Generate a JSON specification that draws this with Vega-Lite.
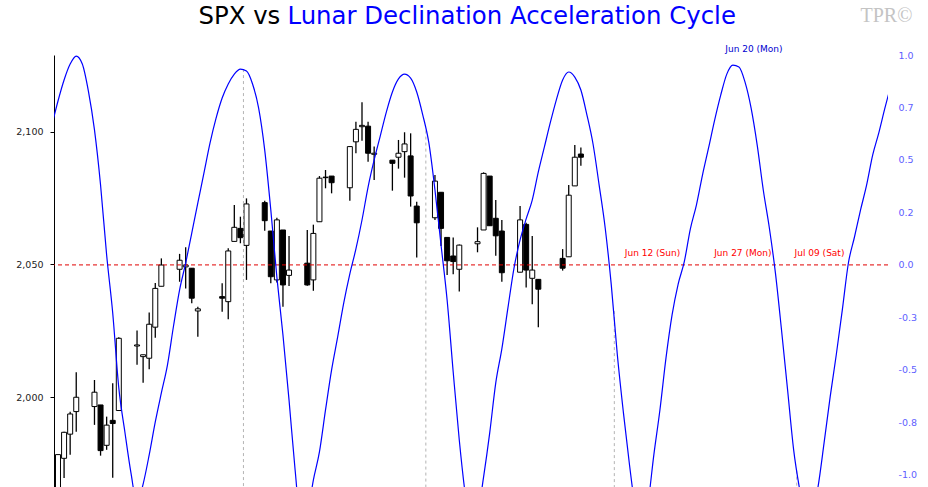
{
  "$schema": "https://vega.github.io/schema/vega-lite/v6.json",
  "width": 834,
  "height": 432,
  "autosize": {"type": "none"},
  "padding": {"left": 54, "top": 55, "right": 40, "bottom": 0},
  "background": "white",
  "config": {"view": {"stroke": null}, "axis": {"grid": false}},
  "datasets": {
    "spx": [
      {"date":"2016-03-01","o":1937.1,"h":1978.4,"l":1937.1,"c":1978.4},
      {"date":"2016-03-02","o":1977.0,"h":1987.0,"l":1969.6,"c":1986.8},
      {"date":"2016-03-03","o":1986.1,"h":1994.5,"l":1978.3,"c":1993.7},
      {"date":"2016-03-04","o":1994.6,"h":2009.4,"l":1987.0,"c":2000.0},
      {"date":"2016-03-07","o":1996.5,"h":2006.5,"l":1989.6,"c":2001.9},
      {"date":"2016-03-08","o":1997.1,"h":1997.1,"l":1978.0,"c":1979.9},
      {"date":"2016-03-09","o":1981.9,"h":1992.7,"l":1980.2,"c":1989.5},
      {"date":"2016-03-10","o":1991.3,"h":2005.3,"l":1969.7,"c":1990.1},
      {"date":"2016-03-11","o":1995.0,"h":2022.6,"l":1995.0,"c":2022.2},
      {"date":"2016-03-14","o":2019.3,"h":2025.1,"l":2012.2,"c":2019.7},
      {"date":"2016-03-15","o":2015.3,"h":2016.0,"l":2005.5,"c":2016.0},
      {"date":"2016-03-16","o":2014.7,"h":2031.9,"l":2010.5,"c":2027.5},
      {"date":"2016-03-17","o":2026.4,"h":2043.0,"l":2022.4,"c":2041.0},
      {"date":"2016-03-18","o":2041.8,"h":2052.3,"l":2041.8,"c":2049.8},
      {"date":"2016-03-21","o":2048.2,"h":2054.0,"l":2043.5,"c":2051.6},
      {"date":"2016-03-22","o":2049.1,"h":2056.5,"l":2041.0,"c":2049.8},
      {"date":"2016-03-23","o":2048.6,"h":2048.6,"l":2035.4,"c":2037.3},
      {"date":"2016-03-24","o":2032.5,"h":2034.1,"l":2022.8,"c":2033.3},
      {"date":"2016-03-28","o":2037.9,"h":2042.9,"l":2032.2,"c":2037.3},
      {"date":"2016-03-29","o":2036.0,"h":2056.1,"l":2029.4,"c":2055.1},
      {"date":"2016-03-30","o":2058.7,"h":2072.4,"l":2058.7,"c":2064.0},
      {"date":"2016-03-31","o":2063.6,"h":2068.0,"l":2058.0,"c":2060.1},
      {"date":"2016-04-01","o":2057.2,"h":2074.9,"l":2044.2,"c":2072.8},
      {"date":"2016-04-04","o":2073.3,"h":2074.0,"l":2062.7,"c":2066.5},
      {"date":"2016-04-05","o":2062.6,"h":2062.6,"l":2042.9,"c":2045.4},
      {"date":"2016-04-06","o":2044.2,"h":2067.6,"l":2043.2,"c":2066.8},
      {"date":"2016-04-07","o":2063.0,"h":2063.0,"l":2034.1,"c":2042.3},
      {"date":"2016-04-08","o":2045.9,"h":2060.7,"l":2041.9,"c":2047.9},
      {"date":"2016-04-11","o":2050.5,"h":2063.0,"l":2042.0,"c":2042.3},
      {"date":"2016-04-12","o":2044.2,"h":2065.0,"l":2040.1,"c":2061.7},
      {"date":"2016-04-13","o":2066.1,"h":2083.3,"l":2066.1,"c":2082.5},
      {"date":"2016-04-14","o":2082.9,"h":2085.6,"l":2078.7,"c":2082.7},
      {"date":"2016-04-15","o":2083.3,"h":2083.3,"l":2076.8,"c":2080.8},
      {"date":"2016-04-18","o":2078.9,"h":2094.6,"l":2074.0,"c":2094.4},
      {"date":"2016-04-19","o":2096.2,"h":2103.8,"l":2091.9,"c":2100.9},
      {"date":"2016-04-20","o":2101.9,"h":2111.1,"l":2096.6,"c":2102.4},
      {"date":"2016-04-21","o":2102.1,"h":2103.8,"l":2088.7,"c":2091.9},
      {"date":"2016-04-22","o":2091.5,"h":2094.4,"l":2081.8,"c":2091.9},
      {"date":"2016-04-25","o":2089.3,"h":2089.3,"l":2077.8,"c":2088.1},
      {"date":"2016-04-26","o":2090.4,"h":2096.9,"l":2086.1,"c":2091.9},
      {"date":"2016-04-27","o":2092.5,"h":2099.8,"l":2082.7,"c":2095.4},
      {"date":"2016-04-28","o":2090.9,"h":2099.4,"l":2071.8,"c":2075.8},
      {"date":"2016-04-29","o":2072.0,"h":2073.6,"l":2052.6,"c":2065.7},
      {"date":"2016-05-02","o":2067.6,"h":2083.7,"l":2066.8,"c":2081.4},
      {"date":"2016-05-03","o":2077.2,"h":2077.2,"l":2057.0,"c":2063.6},
      {"date":"2016-05-04","o":2060.2,"h":2060.2,"l":2046.0,"c":2051.4},
      {"date":"2016-05-05","o":2053.2,"h":2060.2,"l":2046.3,"c":2051.1},
      {"date":"2016-05-06","o":2048.2,"h":2057.5,"l":2039.8,"c":2057.3},
      {"date":"2016-05-09","o":2057.8,"h":2064.0,"l":2054.6,"c":2058.6},
      {"date":"2016-05-10","o":2063.0,"h":2084.7,"l":2063.0,"c":2084.3},
      {"date":"2016-05-11","o":2083.3,"h":2083.3,"l":2064.6,"c":2064.6},
      {"date":"2016-05-12","o":2067.4,"h":2074.3,"l":2053.3,"c":2060.8},
      {"date":"2016-05-13","o":2062.6,"h":2066.8,"l":2043.5,"c":2046.9},
      {"date":"2016-05-16","o":2047.1,"h":2072.0,"l":2047.1,"c":2066.8},
      {"date":"2016-05-17","o":2065.1,"h":2065.7,"l":2041.3,"c":2047.9},
      {"date":"2016-05-18","o":2044.8,"h":2060.7,"l":2035.0,"c":2047.9},
      {"date":"2016-05-19","o":2044.4,"h":2044.4,"l":2026.4,"c":2040.7},
      {"date":"2016-05-23","o":2052.3,"h":2055.8,"l":2047.7,"c":2048.6},
      {"date":"2016-05-24","o":2052.9,"h":2079.9,"l":2052.9,"c":2076.1},
      {"date":"2016-05-25","o":2079.6,"h":2095.0,"l":2079.6,"c":2090.4},
      {"date":"2016-05-26","o":2091.6,"h":2094.1,"l":2087.2,"c":2090.4}
    ],
    "cycle": [
      {"date":"2016-02-29","v":0.667},
      {"date":"2016-03-01","v":0.781},{"date":"2016-03-02","v":0.881},{"date":"2016-03-03","v":0.957},{"date":"2016-03-04","v":0.995},{"date":"2016-03-05","v":0.957},{"date":"2016-03-06","v":0.828},{"date":"2016-03-07","v":0.643},{"date":"2016-03-08","v":0.381},{"date":"2016-03-09","v":0.047},{"date":"2016-03-10","v":-0.229},
      {"date":"2016-03-11","v":-0.586},{"date":"2016-03-12","v":-0.796},{"date":"2016-03-13","v":-0.991},{"date":"2016-03-14","v":-1.134},{"date":"2016-03-15","v":-1.044},{"date":"2016-03-16","v":-0.905},{"date":"2016-03-17","v":-0.748},{"date":"2016-03-18","v":-0.610},{"date":"2016-03-19","v":-0.477},{"date":"2016-03-20","v":-0.291},
      {"date":"2016-03-21","v":-0.119},{"date":"2016-03-22","v":0.009},{"date":"2016-03-23","v":0.152},{"date":"2016-03-24","v":0.295},{"date":"2016-03-25","v":0.437},{"date":"2016-03-26","v":0.580},{"date":"2016-03-27","v":0.699},{"date":"2016-03-28","v":0.795},{"date":"2016-03-29","v":0.862},{"date":"2016-03-30","v":0.909},{"date":"2016-03-31","v":0.933},
      {"date":"2016-04-01","v":0.924},{"date":"2016-04-02","v":0.862},{"date":"2016-04-03","v":0.747},{"date":"2016-04-04","v":0.547},{"date":"2016-04-05","v":0.262},{"date":"2016-04-06","v":-0.058},{"date":"2016-04-07","v":-0.334},{"date":"2016-04-08","v":-0.644},{"date":"2016-04-09","v":-0.977},{"date":"2016-04-10","v":-1.239},
      {"date":"2016-04-11","v":-1.191},{"date":"2016-04-12","v":-1.025},{"date":"2016-04-13","v":-0.891},{"date":"2016-04-14","v":-0.691},{"date":"2016-04-15","v":-0.500},{"date":"2016-04-16","v":-0.343},{"date":"2016-04-17","v":-0.181},{"date":"2016-04-18","v":-0.043},{"date":"2016-04-19","v":0.076},{"date":"2016-04-20","v":0.214},
      {"date":"2016-04-21","v":0.371},{"date":"2016-04-22","v":0.500},{"date":"2016-04-23","v":0.614},{"date":"2016-04-24","v":0.728},{"date":"2016-04-25","v":0.824},{"date":"2016-04-26","v":0.886},{"date":"2016-04-27","v":0.909},{"date":"2016-04-28","v":0.890},{"date":"2016-04-29","v":0.824},{"date":"2016-04-30","v":0.714},
      {"date":"2016-05-01","v":0.581},{"date":"2016-05-02","v":0.357},{"date":"2016-05-03","v":0.095},{"date":"2016-05-04","v":-0.167},{"date":"2016-05-05","v":-0.510},{"date":"2016-05-06","v":-0.834},{"date":"2016-05-07","v":-1.096},{"date":"2016-05-08","v":-1.263},{"date":"2016-05-09","v":-1.191},{"date":"2016-05-10","v":-1.010},
      {"date":"2016-05-11","v":-0.801},{"date":"2016-05-12","v":-0.562},{"date":"2016-05-13","v":-0.400},{"date":"2016-05-14","v":-0.205},{"date":"2016-05-15","v":-0.015},{"date":"2016-05-16","v":0.119},{"date":"2016-05-17","v":0.219},{"date":"2016-05-18","v":0.309},{"date":"2016-05-19","v":0.443},{"date":"2016-05-20","v":0.562},
      {"date":"2016-05-21","v":0.681},{"date":"2016-05-22","v":0.790},{"date":"2016-05-23","v":0.881},{"date":"2016-05-24","v":0.919},{"date":"2016-05-25","v":0.895},{"date":"2016-05-26","v":0.833},{"date":"2016-05-27","v":0.714},{"date":"2016-05-28","v":0.576},{"date":"2016-05-29","v":0.381},{"date":"2016-05-30","v":0.176},{"date":"2016-05-31","v":-0.095},
      {"date":"2016-06-01","v":-0.429},{"date":"2016-06-02","v":-0.705},{"date":"2016-06-03","v":-0.953},{"date":"2016-06-04","v":-1.167},{"date":"2016-06-05","v":-1.263},{"date":"2016-06-06","v":-1.144},{"date":"2016-06-07","v":-0.905},{"date":"2016-06-08","v":-0.691},{"date":"2016-06-09","v":-0.443},{"date":"2016-06-10","v":-0.238},
      {"date":"2016-06-11","v":-0.091},{"date":"2016-06-12","v":0.014},{"date":"2016-06-13","v":0.171},{"date":"2016-06-14","v":0.285},{"date":"2016-06-15","v":0.428},{"date":"2016-06-16","v":0.557},{"date":"2016-06-17","v":0.690},{"date":"2016-06-18","v":0.809},{"date":"2016-06-19","v":0.909},{"date":"2016-06-20","v":0.952},
      {"date":"2016-06-21","v":0.943},{"date":"2016-06-22","v":0.871},{"date":"2016-06-23","v":0.747},{"date":"2016-06-24","v":0.571},{"date":"2016-06-25","v":0.357},{"date":"2016-06-26","v":0.176},{"date":"2016-06-27","v":-0.039},{"date":"2016-06-28","v":-0.310},{"date":"2016-06-29","v":-0.596},{"date":"2016-06-30","v":-0.882},
      {"date":"2016-07-01","v":-1.072},{"date":"2016-07-02","v":-1.215},{"date":"2016-07-03","v":-1.191},{"date":"2016-07-04","v":-1.058},{"date":"2016-07-05","v":-0.848},{"date":"2016-07-06","v":-0.629},{"date":"2016-07-07","v":-0.429},{"date":"2016-07-08","v":-0.214},{"date":"2016-07-09","v":0.009},{"date":"2016-07-10","v":0.133},
      {"date":"2016-07-11","v":0.262},{"date":"2016-07-12","v":0.381},{"date":"2016-07-13","v":0.524},{"date":"2016-07-14","v":0.629},{"date":"2016-07-15","v":0.747},{"date":"2016-07-16","v":0.857}
    ],
    "months": [
      {"date":"2016-03-31T12:00:00Z","v":0.933},
      {"date":"2016-04-30T12:00:00Z","v":0.64},
      {"date":"2016-05-31T12:00:00Z","v":-0.22},
      {"date":"2016-06-30T12:00:00Z","v":-0.98}
    ],
    "zeroline": [{"v": 0}],
    "events": [
      {"date":"2016-06-12","label":"Jun 12 (Sun)","kind":"zero","v":0},
      {"date":"2016-06-27","label":"Jun 27 (Mon)","kind":"zero","v":0},
      {"date":"2016-07-09","label":"Jul 09 (Sat)","kind":"zero","v":0},
      {"date":"2016-06-20","label":"Jun 20 (Mon)","kind":"peak","v":0.952}
    ]
  },
  "encoding": {
    "x": {
      "field": "date",
      "type": "temporal",
      "scale": {
        "type": "utc",
        "padding": 0,
        "nice": false,
        "domain": [
          {"year": 2016, "month": 2, "date": 29, "hours": 8, "minutes": 13, "utc": true},
          {"year": 2016, "month": 7, "date": 15, "hours": 12, "minutes": 19, "utc": true}
        ]
      },
      "axis": {
        "orient": "top",
        "domain": false,
        "ticks": false,
        "labels": false,
        "grid": false,
        "title": "TPR©",
        "titleX": 806,
        "titleY": -34,
        "titleAngle": 0,
        "titleAlign": "left",
        "titleBaseline": "alphabetic",
        "titleColor": "#c4c4c4",
        "titleFont": "Liberation Serif",
        "titleFontSize": 20,
        "titleFontWeight": "normal"
      }
    }
  },
  "layer": [
    {
      "data": {"name": "spx"},
      "layer": [
        {
          "mark": {"type": "rule", "color": "black", "strokeWidth": 1.3, "clip": true},
          "encoding": {
            "y": {
              "field": "l",
              "type": "quantitative",
              "scale": {"domain": [1966.2, 2128.9], "zero": false, "nice": false},
              "axis": {
                "orient": "left",
                "values": [2000, 2050, 2100],
                "format": ",.0f",
                "domain": true,
                "domainColor": "black",
                "domainWidth": 1,
                "ticks": true,
                "tickColor": "black",
                "tickSize": 4,
                "labelPadding": 7,
                "labelColor": "#222222",
                "labelFont": "DejaVu Sans",
                "labelFontSize": 9.5,
                "title": "SPX vs",
                "titleX": 144,
                "titleY": -32,
                "titleAngle": 0,
                "titleAlign": "left",
                "titleBaseline": "alphabetic",
                "titleColor": "black",
                "titleFont": "DejaVu Sans",
                "titleFontSize": 24.4,
                "titleFontWeight": "normal"
              }
            },
            "y2": {"field": "h"}
          }
        },
        {
          "mark": {"type": "bar", "width": 5, "stroke": "black", "strokeWidth": 1, "clip": true},
          "encoding": {
            "y": {"field": "o", "type": "quantitative", "scale": {"domain": [1966.2, 2128.9], "zero": false, "nice": false}},
            "y2": {"field": "c"},
            "fill": {"condition": {"test": "datum.c >= datum.o", "value": "white"}, "value": "black"}
          }
        }
      ]
    },
    {
      "encoding": {
        "y": {
          "field": "v",
          "type": "quantitative",
          "scale": {"domain": [-1.058, 1.0], "zero": false, "nice": false},
          "axis": {
            "orient": "right",
            "values": [-1, -0.75, -0.5, -0.25, 0, 0.25, 0.5, 0.75, 1],
            "labelExpr": "(datum.value < 0 ? '-' : '') + format(abs(floor(datum.value * 10) / 10), '.1f')",
            "domain": false,
            "ticks": false,
            "labelPadding": 10,
            "labelColor": "#6060ff",
            "labelFont": "DejaVu Sans",
            "labelFontSize": 9.5,
            "title": "Lunar Declination Acceleration Cycle",
            "titleX": -601,
            "titleY": -32,
            "titleAngle": 0,
            "titleAlign": "left",
            "titleBaseline": "alphabetic",
            "titleColor": "#0000ff",
            "titleFont": "DejaVu Sans",
            "titleFontSize": 24.4,
            "titleFontWeight": "normal"
          }
        }
      },
      "layer": [
        {
          "data": {"name": "months"},
          "mark": {"type": "rule", "color": "#b4b4b4", "strokeDash": [3, 3], "strokeWidth": 1, "clip": true},
          "encoding": {"y2": {"datum": -1.058}}
        },
        {
          "data": {"name": "zeroline"},
          "mark": {"type": "rule", "color": "#e00000", "strokeDash": [4, 3], "strokeWidth": 1},
          "encoding": {"x": null}
        },
        {
          "data": {"name": "cycle"},
          "mark": {"type": "line", "color": "#0000ff", "strokeWidth": 1.2, "interpolate": "monotone", "clip": true},
          "encoding": {}
        },
        {
          "data": {"name": "events"},
          "transform": [{"filter": "datum.kind == 'zero'"}],
          "mark": {"type": "text", "align": "right", "baseline": "alphabetic", "dx": -4, "dy": -9, "color": "#ff0000", "font": "DejaVu Sans", "fontSize": 9},
          "encoding": {"text": {"field": "label"}}
        },
        {
          "data": {"name": "events"},
          "transform": [{"filter": "datum.kind == 'peak'"}],
          "mark": {"type": "text", "align": "center", "baseline": "alphabetic", "dx": 21, "dy": -13, "color": "#0000d0", "font": "DejaVu Sans", "fontSize": 9},
          "encoding": {"text": {"field": "label"}}
        }
      ]
    }
  ],
  "resolve": {"scale": {"y": "independent"}, "axis": {"y": "independent"}}
}
